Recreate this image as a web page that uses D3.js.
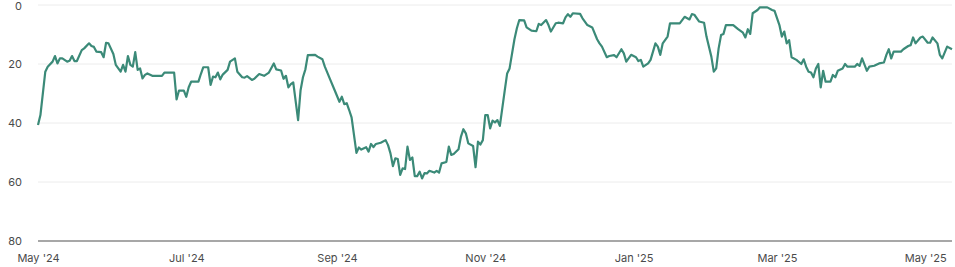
<!DOCTYPE html>
<html lang='en'>
<head>
  <meta charset='UTF-8'>
  <title>Index</title>
  <style>
  body { margin: 0; background: #fff; }
  text { font-family: Inter, 'Noto Sans', sans-serif; font-size: 11px; fill: #4a4a4a; }
  .grid line { stroke: #ececec; stroke-width: 1; }
  .baseline { stroke: #8a8a8a; stroke-width: 1.5; }
  .line { fill: none; stroke: #3b8a78; stroke-width: 2.2; stroke-linejoin: round; }
  </style>
  <script src='https://d3js.org/d3.v7.min.js'></script>
</head>
<body>
  <script>

  // readings
  var dates = [
    '2024-05-01','2024-05-02','2024-05-04','2024-05-05','2024-05-07','2024-05-08','2024-05-09','2024-05-10',
    '2024-05-11','2024-05-13','2024-05-14','2024-05-15','2024-05-16','2024-05-17','2024-05-19','2024-05-20',
    '2024-05-22','2024-05-23','2024-05-24','2024-05-25','2024-05-27','2024-05-28','2024-05-29','2024-05-30',
    '2024-06-01','2024-06-02','2024-06-04','2024-06-05','2024-06-06','2024-06-07','2024-06-08','2024-06-09',
    '2024-06-10','2024-06-11','2024-06-12','2024-06-13','2024-06-14','2024-06-15','2024-06-17','2024-06-21',
    '2024-06-22','2024-06-26','2024-06-27','2024-06-28','2024-06-30','2024-07-01','2024-07-02','2024-07-03',
    '2024-07-06','2024-07-07','2024-07-08','2024-07-10','2024-07-11','2024-07-12','2024-07-13','2024-07-14',
    '2024-07-15','2024-07-16','2024-07-18','2024-07-19','2024-07-21','2024-07-22','2024-07-24','2024-07-25',
    '2024-07-26','2024-07-28','2024-07-29','2024-07-31','2024-08-02','2024-08-04','2024-08-06','2024-08-07',
    '2024-08-09','2024-08-10','2024-08-11','2024-08-12','2024-08-13','2024-08-14','2024-08-16','2024-08-17',
    '2024-08-18','2024-08-19','2024-08-20','2024-08-23','2024-08-24','2024-08-26','2024-08-27','2024-08-29',
    '2024-08-31','2024-09-02','2024-09-03','2024-09-04','2024-09-05','2024-09-06','2024-09-07','2024-09-09',
    '2024-09-10','2024-09-11','2024-09-13','2024-09-14','2024-09-15','2024-09-16','2024-09-17','2024-09-19',
    '2024-09-21','2024-09-22','2024-09-23','2024-09-24','2024-09-25','2024-09-26','2024-09-27','2024-09-28',
    '2024-09-29','2024-09-30','2024-10-01','2024-10-02','2024-10-03','2024-10-04','2024-10-05','2024-10-06',
    '2024-10-07','2024-10-08','2024-10-09','2024-10-11','2024-10-12','2024-10-13','2024-10-14','2024-10-16',
    '2024-10-17','2024-10-18','2024-10-19','2024-10-21','2024-10-22','2024-10-23','2024-10-24','2024-10-25',
    '2024-10-27','2024-10-28','2024-10-29','2024-10-30','2024-10-31','2024-11-01','2024-11-02','2024-11-03',
    '2024-11-04','2024-11-05','2024-11-06','2024-11-07','2024-11-09','2024-11-10','2024-11-11','2024-11-13',
    '2024-11-14','2024-11-15','2024-11-17','2024-11-18','2024-11-20','2024-11-22','2024-11-23','2024-11-24',
    '2024-11-26','2024-11-27','2024-11-28','2024-11-30','2024-12-01','2024-12-03','2024-12-04','2024-12-05',
    '2024-12-06','2024-12-07','2024-12-10','2024-12-11','2024-12-13','2024-12-15','2024-12-17','2024-12-18',
    '2024-12-19','2024-12-21','2024-12-22','2024-12-24','2024-12-25','2024-12-27','2024-12-28','2024-12-29',
    '2024-12-31','2025-01-02','2025-01-03','2025-01-04','2025-01-05','2025-01-07','2025-01-08','2025-01-10',
    '2025-01-11','2025-01-12','2025-01-13','2025-01-15','2025-01-16','2025-01-18','2025-01-20','2025-01-22',
    '2025-01-24','2025-01-25','2025-01-26','2025-01-28','2025-01-30','2025-01-31','2025-02-02','2025-02-03',
    '2025-02-04','2025-02-05','2025-02-06','2025-02-07','2025-02-08','2025-02-11','2025-02-13','2025-02-15',
    '2025-02-16','2025-02-17','2025-02-18','2025-02-19','2025-02-21','2025-02-22','2025-02-25','2025-02-27',
    '2025-02-28','2025-03-02','2025-03-03','2025-03-04','2025-03-05','2025-03-06','2025-03-07','2025-03-09',
    '2025-03-11','2025-03-12','2025-03-13','2025-03-14','2025-03-15','2025-03-16','2025-03-17','2025-03-18',
    '2025-03-19','2025-03-20','2025-03-21','2025-03-23','2025-03-24','2025-03-25','2025-03-26','2025-03-28',
    '2025-03-29','2025-03-30','2025-04-02','2025-04-03','2025-04-04','2025-04-05','2025-04-07','2025-04-08',
    '2025-04-10','2025-04-12','2025-04-14','2025-04-15','2025-04-16','2025-04-17','2025-04-18','2025-04-21',
    '2025-04-22','2025-04-24','2025-04-25','2025-04-26','2025-04-27','2025-04-29','2025-04-30','2025-05-02',
    '2025-05-03','2025-05-04','2025-05-06','2025-05-07','2025-05-08','2025-05-10','2025-05-12'
  ];

  var values = [
    40.7,37.3,22.6,20.9,19.2,17.3,19.8,18.1,
    18.1,19.2,18.9,17.3,19,19,15.3,14.7,
    13,13.9,14.2,15.8,16,17.7,12.8,13,
    16.6,20.3,22.6,20.3,22.6,17.3,20.3,20.9,
    16,22,21.5,24.9,23.7,23.2,24,24,
    22.9,22.9,32,29,29,31.1,27.9,26,
    26,23.4,21.1,21.1,27.1,24.3,24.5,22.9,
    25.2,23.6,22,19.2,18.1,22.6,24.5,24.6,
    24.1,25.4,25,23.4,24,22.9,19.8,21.8,
    22.2,25,24,27.9,26.8,26.2,39,29,
    24.5,21.8,17,16.9,17.5,18.4,20.9,24.9,
    28.8,32.8,31.1,33.6,33.3,35.6,38.1,50.1,
    48.3,49,48.2,49.7,47.1,48.2,47.1,46.7,
    45.8,47.5,50.3,54.6,52,52.2,57.6,55.4,
    55.6,48,52.5,51.7,58,58,56.5,58.8,
    57,57.1,56.2,56.8,56.2,56.8,53.7,53.2,
    48,50.8,50.5,48.9,44.6,42.1,43.5,46.9,
    47.8,55,46.3,47.3,45.8,37.3,37.3,41.8,
    39.2,39.8,39,41,29,23.2,21.5,11.6,
    7.9,5.1,5.2,7.6,8.7,8.9,6.4,6.8,
    5.1,6.8,9,6.2,6,6.2,4.2,3.1,
    4,2.8,3,4.5,6.8,7.6,11.6,13,
    14.1,17.7,17.3,17,17.7,15,16.4,19.2,
    16.9,17.7,19,18.6,20.9,19.8,18.6,13,
    14.1,16.9,13,10.7,6.2,6.2,6.2,4,
    4.9,3.1,3.3,5.6,6,10.7,17.5,22.6,
    21.5,14.7,10.2,9.8,6.8,6.8,8.2,9.4,
    11,8.2,9.8,2.8,1.7,0.8,0.8,1.7,
    2,6.8,10.7,9,13,11.9,17.7,18.6,
    20,18.4,20.9,22.6,22.9,24.5,21.5,20,
    27.9,22.3,26,26,23.7,24.5,22.3,21.5,
    20,20.9,20.9,20,20.6,18.1,22.3,20.9,
    20.6,19.8,19.5,16.9,15,18.1,15.8,15.8,
    15,13.9,13.6,11,13,11,10.7,12.8,
    12.8,11,13,16.9,18.1,14.1,15
  ];

  var yTicks = [0, 20, 40, 60, 80];
  var xStart = '2024-05-01';
  var xEnd = '2025-05-12';

  var W = 955, H = 267;
  var parse = d3.timeParse('%Y-%m-%d');

  var series = dates.map(function (d, i) { return { date: parse(d), value: values[i] }; });

  var svg = d3.select('body').append('svg').attr('width', W).attr('height', H);

  var x = d3.scaleTime().domain([parse(xStart), parse(xEnd)]).range([38, 952]);
  var y = d3.scaleLinear().domain([0, 80]).range([5, 241]);

  // gridlines
  svg.append('g').attr('class', 'grid')
    .selectAll('line')
    .data(yTicks.slice(0, -1))
    .enter().append('line')
    .attr('x1', 38).attr('x2', 952)
    .attr('y1', function (d) { return y(d); })
    .attr('y2', function (d) { return y(d); });

  svg.append('line').attr('class', 'baseline')
    .attr('x1', 38).attr('x2', 952)
    .attr('y1', y(80)).attr('y2', y(80));

  // y labels (top one nudged so it isn't clipped)
  svg.append('g').selectAll('text')
    .data(yTicks)
    .enter().append('text')
    .attr('x', 22)
    .attr('y', function (d) { return Math.max(y(d), 6.5); })
    .attr('dy', '0.35em')
    .attr('text-anchor', 'end')
    .text(function (d) { return d; });

  // x labels
  var xAxis = d3.axisBottom(x)
    .ticks(d3.timeMonth.every(2))
    .tickSize(0)
    .tickPadding(0)
    .tickFormat(d3.timeFormat("%b '%y"));

  var gx = svg.append('g').attr('transform', 'translate(0,' + 262 + ')').call(xAxis);
  gx.select('.domain').remove();
  gx.selectAll('text').attr('dy', 0).attr('fill', '#4a4a4a')
    .style('font-family', 'Inter, sans-serif').style('font-size', '11px');

  var line = d3.line()
    .x(function (d) { return x(d.date); })
    .y(function (d) { return y(d.value); });

  svg.append('path').datum(series).attr('class', 'line').attr('d', line);
  </script>
</body>
</html>
